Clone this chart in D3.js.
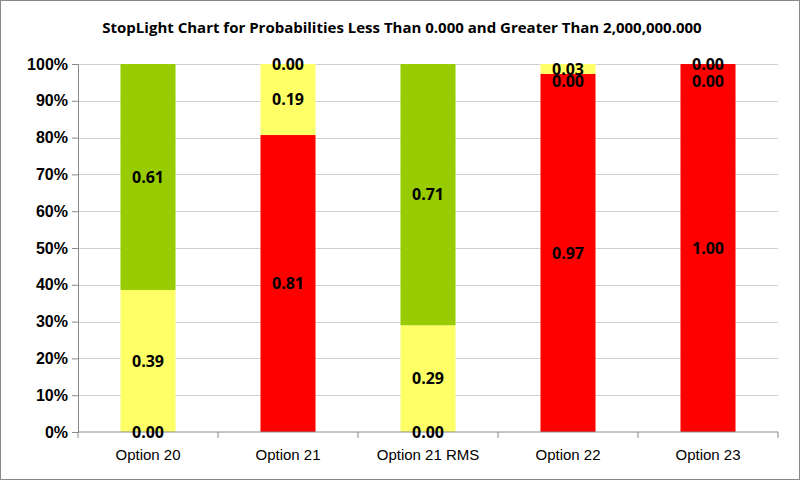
<!DOCTYPE html>
<meta charset="utf-8">
<style>
    body { margin: 0; background: #fff; }
    svg { font-family: "Liberation Sans Narrow", "Open Sans", sans-serif; font-weight: bold; }
    .grid line { stroke: #d0d0d0; }
    .axis path, .axis line { stroke: #888; }
    .axis text { font-size: 16px; fill: #000; }
    .lbl { font-size: 16px; text-anchor: middle; fill: #000; }
</style>
<svg></svg>
<script src="https://cdn.jsdelivr.net/npm/d3@7"></script>
<script>

    var categories = ["Option 20", "Option 21", "Option 21 RMS", "Option 22", "Option 23"];
    var red = [0.00, 0.807, 0.00, 0.973, 1.00];
    var yellow = [0.386, 0.193, 0.29, 0.027, 0.00];
    var green = [0.614, 0.00, 0.71, 0.00, 0.00];
    var yTicks = [0, 0.1, 0.2, 0.3, 0.4, 0.5, 0.6, 0.7, 0.8, 0.9, 1.0];
    var title = "StopLight Chart for Probabilities Less Than 0.000 and Greater Than 2,000,000.000";

    var width = 800,
        height = 480,
        margin = { top: 64, right: 22, bottom: 48, left: 78 };

    var svg = d3.select("svg")
        .attr("width", width)
        .attr("height", height);

    svg.append("rect")
        .attr("x", 0.5).attr("y", 0.5)
        .attr("width", width - 1).attr("height", height - 1)
        .attr("fill", "#fff").attr("stroke", "#888");

    svg.append("text")
        .attr("x", 402).attr("y", 33)
        .attr("text-anchor", "middle")
        .style("font-size", "15px")
        .text(title);

    var x = d3.scaleBand()
        .domain(categories)
        .range([margin.left, width - margin.right])
        .paddingInner(0.607)
        .paddingOuter(0.3035);

    var y = d3.scaleLinear()
        .domain([0, 1])
        .range([height - margin.bottom, margin.top]);

    svg.append("g")
        .attr("class", "grid")
        .selectAll("line")
        .data(yTicks.slice(1))
        .enter().append("line")
        .attr("x1", margin.left).attr("x2", width - margin.right)
        .attr("y1", function (d) { return Math.round(y(d)) + 0.5; })
        .attr("y2", function (d) { return Math.round(y(d)) + 0.5; });

    var keys = ["red", "yellow", "green"];
    var colors = { red: "#ff0000", yellow: "#ffff66", green: "#99cc00" };
    var rows = categories.map(function (c, i) {
        return { cat: c, red: red[i], yellow: yellow[i], green: green[i] };
    });
    var series = d3.stack().keys(keys)(rows);

    var bars = svg.append("g");
    series.forEach(function (s) {
        bars.selectAll(null)
            .data(s)
            .enter().append("rect")
            .attr("x", function (d) { return x(d.data.cat); })
            .attr("width", x.bandwidth())
            .attr("y", function (d) { return y(d[1]); })
            .attr("height", function (d) { return y(d[0]) - y(d[1]); })
            .attr("fill", colors[s.key]);
    });

    var yAxis = svg.append("g")
        .attr("class", "axis")
        .attr("transform", "translate(" + margin.left + ",0)")
        .call(d3.axisLeft(y).tickValues(yTicks).tickFormat(d3.format(".0%")).tickSize(6).tickPadding(4));

    var xAxis = svg.append("g")
        .attr("class", "axis")
        .attr("transform", "translate(0," + (height - margin.bottom) + ")")
        .call(d3.axisBottom(x).tickSize(0).tickPadding(17));
    xAxis.select(".domain").remove();
    xAxis.append("line")
        .attr("x1", margin.left).attr("x2", width - margin.right)
        .attr("stroke", "#888");
    // tick marks between categories
    xAxis.selectAll(".sep")
        .data(d3.range(categories.length + 1))
        .enter().append("line")
        .attr("x1", function (i) { return margin.left + i * x.step(); })
        .attr("x2", function (i) { return margin.left + i * x.step(); })
        .attr("y1", 0).attr("y2", 6)
        .attr("stroke", "#888");
    xAxis.selectAll("text").style("font-size", "15px").style("font-weight", "normal");

    // data labels, pushed down when they collide with one already placed
    var labels = svg.append("g");
    rows.forEach(function (r, i) {
        var placed = [];
        series.forEach(function (s) {
            var d = s[i];
            var ly = y((d[0] + d[1]) / 2);
            placed.forEach(function (p) {
                if (Math.abs(p - ly) < 12) ly = p + (p === y(1) ? 17 : 12);
            });
            placed.push(ly);
            labels.append("text")
                .attr("class", "lbl")
                .attr("x", x(r.cat) + x.bandwidth() / 2)
                .attr("y", ly)
                .attr("dy", "0.35em")
                .text(d3.format(".2f")(d.data[s.key]));
        });
    });

</script>
